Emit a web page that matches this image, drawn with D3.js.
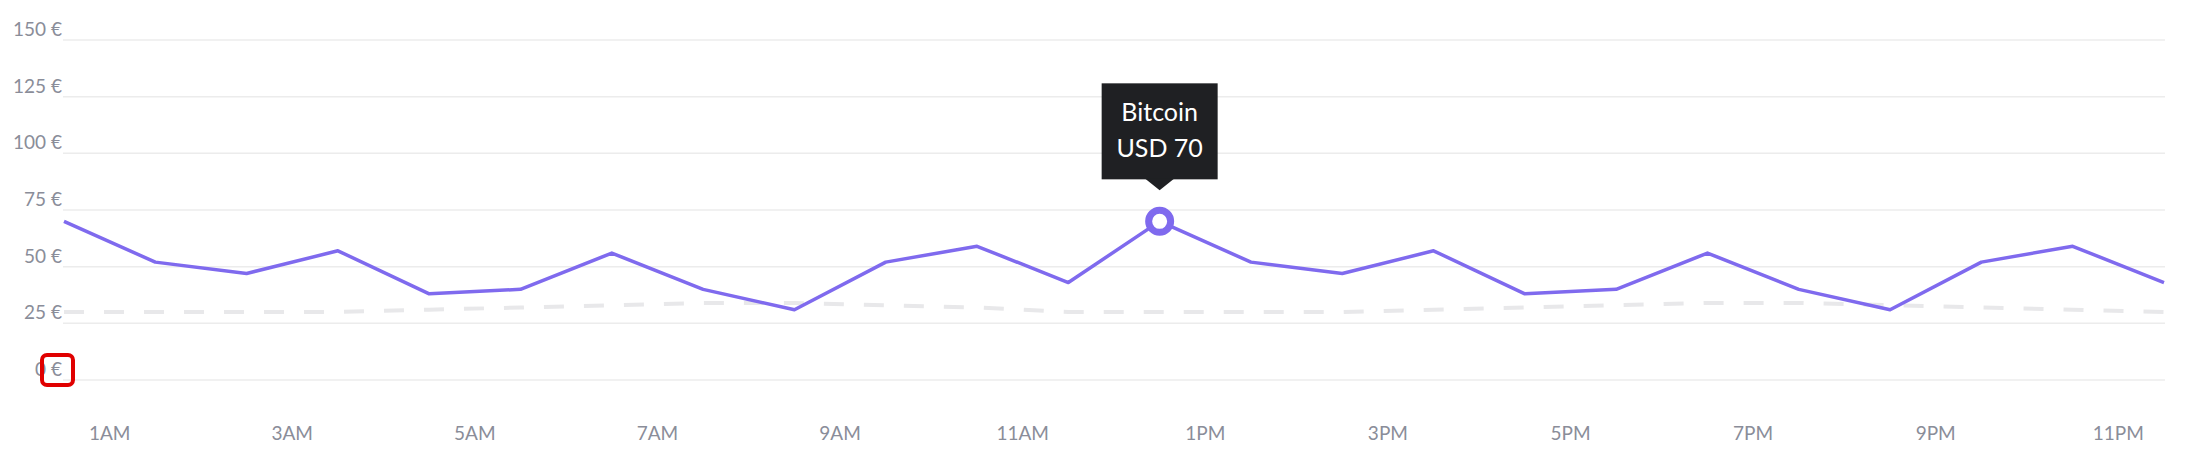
<!DOCTYPE html>
<html>
<head>
<meta charset="utf-8">
<script src="https://cdn.jsdelivr.net/npm/d3@7"></script>
<style>
  body { margin: 0; background: #fff; }
  svg { display: block; font-family: Lato, "Noto Sans", sans-serif; }
</style>
</head>
<body>
<svg id="chart"></svg>
<script>
const hours = d3.range(24);
const bitcoin = [70, 52, 47, 57, 38, 40, 56, 40, 31, 52, 59, 43, 70, 52, 47, 57, 38, 40, 56, 40, 31, 52, 59, 43];
const average = [30, 30, 30, 30, 31, 32, 33, 34, 34, 33, 32, 30, 30, 30, 30, 31, 32, 33, 34, 34, 33, 32, 31, 30];
const yTicks = [0, 25, 50, 75, 100, 125, 150];
const xTickHours = [1, 3, 5, 7, 9, 11, 13, 15, 17, 19, 21, 23];
const tipIndex = 12;

const width = 2188, height = 472;
const svg = d3.select("#chart").attr("width", width).attr("height", height);

const x = d3.scaleLinear().domain([0, 23]).range([64, 2164]);
const y = d3.scaleLinear().domain([0, 150]).range([380, 40]);
const step = x(1) - x(0);

// grid
svg.append("g").selectAll("line").data(yTicks).join("line")
  .attr("x1", 63).attr("x2", 2165)
  .attr("y1", d => y(d)).attr("y2", d => y(d))
  .attr("stroke", "#ececec").attr("stroke-width", 1.5);

svg.append("g").selectAll("text").data(yTicks).join("text")
  .attr("x", 62).attr("y", d => y(d) - 4)
  .attr("text-anchor", "end")
  .attr("fill", "#8a8d99").style("font-size", "19px")
  .text(d => `${d} €`);

const fmt = h => (h % 12 === 0 ? 12 : h % 12) + (h < 12 ? "AM" : "PM");
svg.append("g").selectAll("text").data(xTickHours).join("text")
  .attr("x", d => x(d) - step / 2).attr("y", 440)
  .attr("text-anchor", "middle")
  .attr("fill", "#8a8d99").style("font-size", "19px")
  .text(d => fmt(d));

// dashed average
svg.append("path").datum(average)
  .attr("fill", "none").attr("stroke", "#e8e8ea").attr("stroke-width", 4)
  .attr("stroke-dasharray", "20 20")
  .attr("d", d3.line().x((d, i) => x(hours[i])).y(d => y(d)));

// bitcoin line
svg.append("path").datum(bitcoin)
  .attr("fill", "none").attr("stroke", "#7f6aee").attr("stroke-width", 3.5)
  .attr("stroke-linejoin", "round")
  .attr("d", d3.line().x((d, i) => x(hours[i])).y(d => y(d)));

// highlighted point + tooltip
const px = x(hours[tipIndex]), py = y(bitcoin[tipIndex]);
svg.append("circle").attr("cx", px).attr("cy", py).attr("r", 11)
  .attr("fill", "#fff").attr("stroke", "#7f6aee").attr("stroke-width", 7);

const tip = svg.append("g").attr("transform", `translate(${px},${py - 138})`);
tip.append("rect").attr("x", -58).attr("y", 0).attr("width", 116).attr("height", 96)
  .attr("fill", "#1f2023");
tip.append("path").attr("d", "M-15,95 L0,107 L15,95 Z").attr("fill", "#1f2023");
tip.append("text").attr("x", 0).attr("y", 38).attr("text-anchor", "middle")
  .attr("fill", "#fff").style("font-size", "25px").text("Bitcoin");
tip.append("text").attr("x", 0).attr("y", 74).attr("text-anchor", "middle")
  .attr("fill", "#fff").style("font-size", "25px").text(`USD ${bitcoin[tipIndex]}`);

// red marker box around the zero label
svg.append("rect").attr("x", 42).attr("y", 355).attr("width", 31).attr("height", 30)
  .attr("rx", 5).attr("fill", "none").attr("stroke", "#e00000").attr("stroke-width", 4);
</script>
</body>
</html>
